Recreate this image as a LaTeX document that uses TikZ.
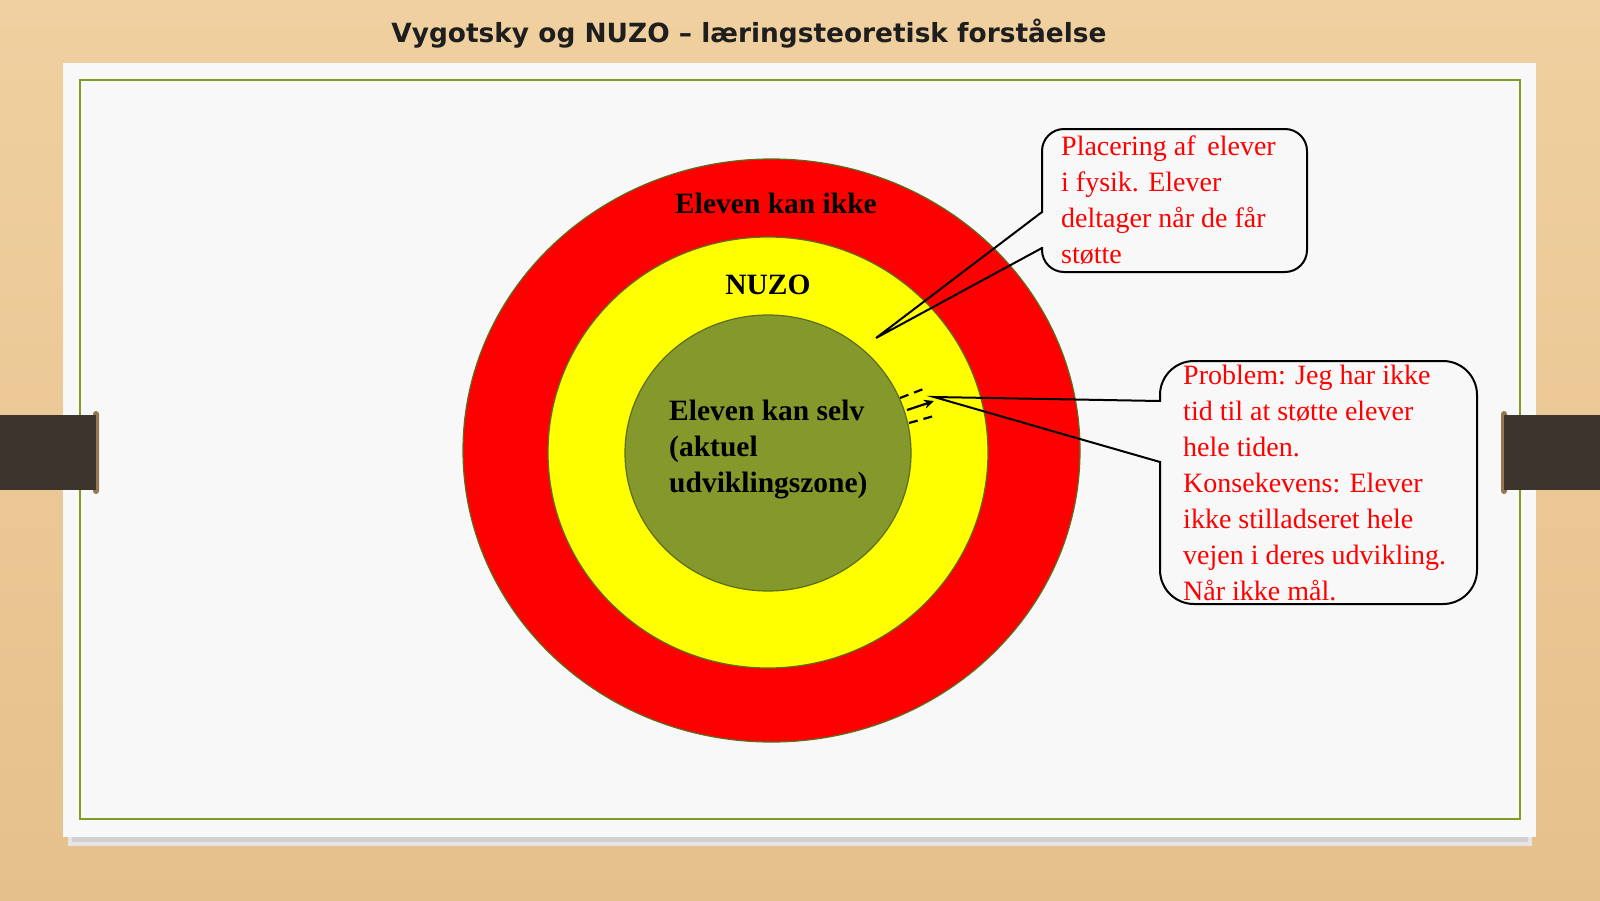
\documentclass[tikz,border=0pt]{standalone}
\usepackage{fontspec}
\setmainfont{Liberation Serif}
\newfontfamily\titlefont{DejaVu Sans}
\usetikzlibrary{shapes.geometric,arrows.meta,calc}
\definecolor{woodA}{RGB}{240,208,160}
\definecolor{woodB}{RGB}{230,192,140}
\definecolor{panel}{RGB}{248,248,248}
\definecolor{frameg}{RGB}{128,156,34}
\definecolor{strap}{RGB}{60,52,45}
\definecolor{knob}{RGB}{150,120,80}
\definecolor{ringred}{RGB}{255,0,0}
\definecolor{ringyel}{RGB}{255,255,0}
\definecolor{olive}{RGB}{132,152,44}
\definecolor{olived}{RGB}{90,110,30}
\definecolor{titlec}{RGB}{30,30,30}
\tikzset{
  ring/.style={ellipse, draw=olived, line width=1.2pt, inner sep=0pt},
  ringlabel/.style={font=\bfseries\fontsize{29.5}{36}\selectfont, text=black, inner sep=0pt},
  callbox/.style={draw=black, line width=2pt, fill=panel},
  calltext/.style={font=\fontsize{28}{36}\selectfont, text=red, align=left, inner sep=0pt, anchor=north west},
  pointer/.style={line width=2pt, line join=miter},
  dashline/.style={line width=2.2pt, dash pattern=on 9pt off 6pt},
}
\begin{document}
\begin{tikzpicture}[x=1pt,y=-1pt]
\useasboundingbox (0,0) rectangle (1600,900);
% background
\shade[top color=woodA, bottom color=woodB] (0,0) rectangle (1600,900);
% panel shadow and panel
\fill[black!10] (68,820) rectangle (1532,846);
\fill[black!18] (72,820) rectangle (1528,842);
\fill[panel] (63,63) rectangle (1536,837);
\draw[frameg, line width=2pt] (80,80) rectangle (1520,819);
% straps
\fill[knob, rounded corners=3pt] (93,411) rectangle (99,494);
\fill[strap] (0,415) rectangle (96,490);
\fill[knob, rounded corners=3pt] (1501,411) rectangle (1507,494);
\fill[strap] (1504,415) rectangle (1600,490);
% title
\node[font=\titlefont\bfseries\fontsize{26.4}{32}\selectfont, text=titlec] (title) at (749,34) {Vygotsky og NUZO – læringsteoretisk forståelse};
% rings
\node[ring, fill=ringred, minimum width=617pt, minimum height=583pt] (outer) at (771.5,450.5) {};
\node[ring, fill=ringyel, minimum width=440pt, minimum height=431pt] (mid) at (768,452.5) {};
\node[ring, fill=olive, minimum width=286pt, minimum height=276pt] (inner) at (768,453) {};
\node[ringlabel] (lblout) at (776,203) {Eleven kan ikke};
\node[ringlabel] (lblmid) at (768,285) {NUZO};
\node[ringlabel, align=left, anchor=north west] (lblin) at (669,400) {Eleven kan selv\\(aktuel\\udviklingszone)};
% callout 1
\coordinate (tip1) at (876,338);
\coordinate (b1a) at (1042,212);
\coordinate (b1b) at (1042,248);
\draw[callbox, rounded corners=22pt] (1042,129) rectangle (1307,272);
\fill[panel] ($(b1a)+(-2,1)$) rectangle ($(b1b)+(2,-1)$);
\draw[pointer] (b1a) -- (tip1) -- (b1b);
\node[calltext] (t1) at (1061,136) {Placering af\, elever\\i fysik. Elever\\deltager når de får\\støtte};
% callout 2
\coordinate (tip2) at (934,397);
\coordinate (b2a) at (1160,401);
\coordinate (b2b) at (1160,462);
\draw[callbox, rounded corners=34pt] (1160,361) rectangle (1477,604);
\fill[panel] ($(b2a)+(-2,1)$) rectangle ($(b2b)+(2,-1)$);
\draw[pointer] (b2a) -- (tip2) -- (b2b);
\node[calltext] (t2) at (1183,365) {Problem: Jeg har ikke\\tid til at støtte elever\\hele tiden.\\Konsekevens: Elever\\ikke stilladseret hele\\vejen i deres udvikling.\\Når ikke mål.};
% dashed arrows
\coordinate (d1s) at (900,398); \coordinate (d1e) at (926,388);
\coordinate (d2s) at (907,410); \coordinate (d2e) at (934,401);
\coordinate (d3s) at (909,423); \coordinate (d3e) at (934,416);
\draw[dashline] (d1s) -- (d1e);
\draw[line width=2.2pt, -{Stealth[length=10pt,width=9pt]}] (d2s) -- (d2e);
\draw[dashline] (d3s) -- (d3e);
\end{tikzpicture}
\end{document}
